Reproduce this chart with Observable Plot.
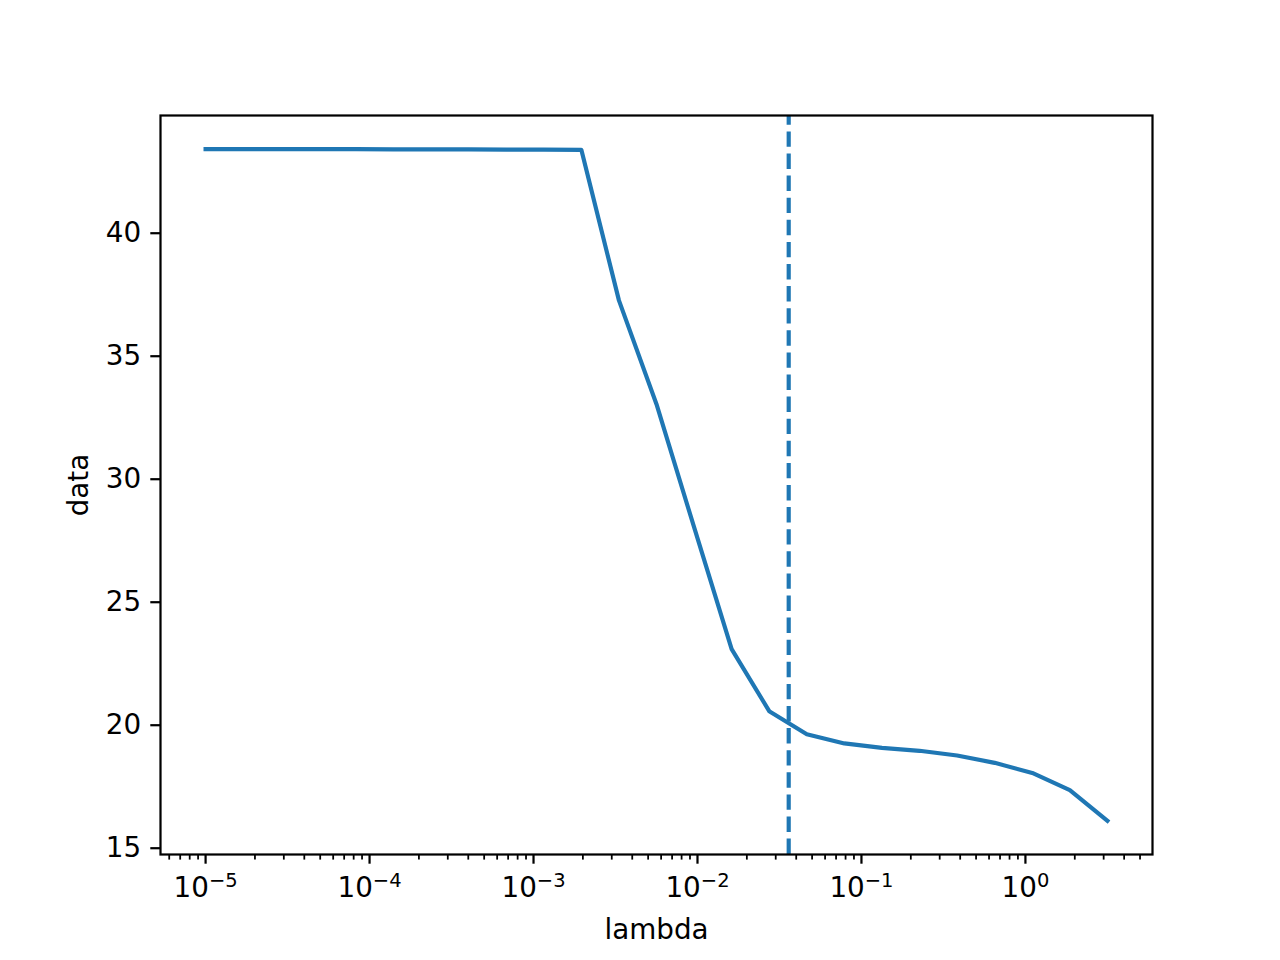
<!DOCTYPE html>
<html>
<head>
<meta charset="utf-8">
<script src="https://cdn.jsdelivr.net/npm/d3@7"></script>
<script src="https://cdn.jsdelivr.net/npm/@observablehq/plot@0.6"></script>
<style>
  html, body { margin: 0; padding: 0; background: #fff; }
</style>
</head>
<body>
<div id="chart"></div>
<script>
// ---- data ----
const lambdas = [
  1.0000e-5, 1.6952e-5, 2.8738e-5, 4.8697e-5, 8.2540e-5,
  1.3992e-4, 2.3714e-4, 4.0200e-4, 6.8129e-4, 1.1548e-3,
  1.9573e-3, 3.3180e-3, 5.6234e-3, 9.5319e-3, 1.6156e-2,
  2.7384e-2, 4.6416e-2, 7.8671e-2, 1.3335e-1, 2.2603e-1,
  3.8312e-1, 6.4938e-1, 1.1007, 1.8656, 3.1623
];
const dataValues = [
  43.42, 43.42, 43.42, 43.42, 43.42,
  43.41, 43.41, 43.41, 43.40, 43.40,
  43.39, 37.27, 33.05, 28.05, 23.09,
  20.57, 19.63, 19.26, 19.08, 18.96,
  18.77, 18.47, 18.06, 17.36, 16.11
];
const bestLambda = 0.036;
const yTicks = [15, 20, 25, 30, 35, 40];
const xMajorTicks = [1e-5, 1e-4, 1e-3, 1e-2, 1e-1, 1e0];
const xLabel = "lambda";
const yLabel = "data";

// ---- derived ----
const rows = lambdas.map((l, i) => ({lambda: l, value: dataValues[i]}));
const lmin = Math.log10(d3.min(lambdas)), lmax = Math.log10(d3.max(lambdas));
const lm = (lmax - lmin) * 0.05;
const xDomain = [Math.pow(10, lmin - lm), Math.pow(10, lmax + lm)];
const vmin = d3.min(dataValues), vmax = d3.max(dataValues);
const vm = (vmax - vmin) * 0.05;
const yDomain = [vmin - vm, vmax + vm];

const xMinorTicks = [];
for (let e = -6; e <= 1; e++) {
  for (let k = 2; k <= 9; k++) {
    const v = k * Math.pow(10, e);
    if (v >= xDomain[0] && v <= xDomain[1]) xMinorTicks.push(v);
  }
}

const blue = "#1f77b4";
const lw = 4.17;      // 1.5pt @200dpi
const axw = 2.22;     // 0.8pt @200dpi

const svg = Plot.plot({
  width: 1280,
  height: 960,
  marginLeft: 160,
  marginRight: 128,
  marginTop: 115,
  marginBottom: 106,
  style: {fontFamily: "DejaVu Sans", fontSize: "27.8px", background: "#fff", color: "#000"},
  x: {type: "log", domain: xDomain},
  y: {domain: yDomain},
  marks: [
    Plot.line(rows, {x: "lambda", y: "value", stroke: blue, strokeWidth: lw,
      strokeLinecap: "square", strokeLinejoin: "round"}),
    Plot.ruleX([bestLambda], {y1: yDomain[0], y2: yDomain[1], stroke: blue, strokeWidth: lw,
      strokeDasharray: "15.4,6.7", strokeLinecap: "butt"}),
    Plot.frame({stroke: "#000", strokeWidth: axw}),
    Plot.axisY(yTicks, {anchor: "left", tickSize: 9.7, tickPadding: 9.7, strokeWidth: axw,
      label: null, tickFormat: d => String(d)}),
    Plot.axisX(xMinorTicks, {anchor: "bottom", tickSize: 5.6, strokeWidth: axw * 0.8,
      label: null, tickFormat: () => ""}),
    Plot.axisX(xMajorTicks, {anchor: "bottom", tickSize: 9.7, tickPadding: 13.3, strokeWidth: axw,
      label: null, tickFormat: d => "10^" + String(Math.round(Math.log10(d))).replace("-", "\u2212")}),
    Plot.text([xLabel], {frameAnchor: "bottom", dy: 84, lineAnchor: "bottom", textAnchor: "middle",
      text: d => d, fill: "#000"}),
    Plot.text([yLabel], {frameAnchor: "left", dx: -72.4, rotate: -90, lineAnchor: "bottom",
      textAnchor: "middle", text: d => d, fill: "#000"})
  ]
});

// superscript exponents on the x tick labels
d3.select(svg).selectAll("text").each(function() {
  const t = this.textContent;
  if (t && t.startsWith("10^")) {
    const exp = t.slice(3);
    const sel = d3.select(this);
    sel.text(null);
    sel.append("tspan").text("10");
    sel.append("tspan").attr("dy", "-10").attr("font-size", "19.5px").text(exp);
  }
});

document.getElementById("chart").appendChild(svg);
</script>
</body>
</html>
